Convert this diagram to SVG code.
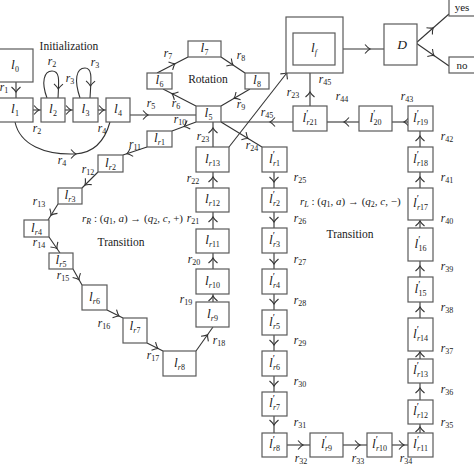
<svg xmlns="http://www.w3.org/2000/svg" xmlns:xlink="http://www.w3.org/1999/xlink" width="474" height="467" viewBox="0 0 474 467">
<style>
.box{fill:#fff;stroke:#5a5a5a;stroke-width:1.2}
.ln{fill:none;stroke:#333;stroke-width:1.1}
.t{font-family:"Liberation Serif","DejaVu Serif",serif;fill:#1a1a1a}
.nl{font-size:13.5px;text-anchor:middle}
.el{font-size:11.5px;text-anchor:middle}
.ttl{font-size:11.5px;text-anchor:middle}
.fm{font-size:11px}
.i{font-style:italic}
.s{font-size:8px}
.p{font-size:10px}
</style>
<defs>
<path id="ah" d="M-5,-4.5 Q-2,-1 0,0 Q-2,1 -5,4.5" fill="none" stroke="#333" stroke-width="1.1"/>
</defs>
<rect width="474" height="467" fill="#fff"/>

<g id="connectors">
<path class="ln" d="M16 82 L16 98"/><use href="#ah" transform="translate(16,92) rotate(90)"/>
<path class="ln" d="M33 110 L41 110"/><use href="#ah" transform="translate(39,110)"/>
<path class="ln" d="M65 110 L73 110"/><use href="#ah" transform="translate(71,110)"/>
<path class="ln" d="M98 110 L106 110"/><use href="#ah" transform="translate(104,110)"/>
<path class="ln" d="M130 115 L196 115"/><use href="#ah" transform="translate(148,115)"/>
<path class="ln" d="M15 122 C20 145,45 155,75 154 C95 153,105 140,110 122"/><use href="#ah" transform="translate(76,154)"/>
<path class="ln" d="M47 98 C41 82,44 71,52 71 C60 71,59 80,58 98"/><use href="#ah" transform="translate(58.3,89) rotate(92)"/>
<path class="ln" d="M80 98 C74 80,76 68,85 68 C93 68,91 80,90 98"/><use href="#ah" transform="translate(90.4,86) rotate(92)"/>
<path class="ln" d="M157 73 L188 57"/><use href="#ah" transform="translate(175,63.7) rotate(-27.3)"/>
<path class="ln" d="M221 57 L245 73"/><use href="#ah" transform="translate(233,65) rotate(33.7)"/>
<path class="ln" d="M250 89 L221 106"/><use href="#ah" transform="translate(234,98.4) rotate(149.6)"/>
<path class="ln" d="M196 106 L163 89"/><use href="#ah" transform="translate(172,93.6) rotate(207.3)"/>
<path class="ln" d="M293 122 L221 122"/><use href="#ah" transform="translate(270,122) rotate(180)"/>
<path class="ln" d="M196 122 L172 131"/><use href="#ah" transform="translate(184,126.5) rotate(159.4)"/>
<path class="ln" d="M147 147 L123 155"/><use href="#ah" transform="translate(127,153.7) rotate(161.6)"/>
<path class="ln" d="M98 172 L82 188"/><use href="#ah" transform="translate(85,185) rotate(135)"/>
<path class="ln" d="M58 204 L48 220"/><use href="#ah" transform="translate(51,215.2) rotate(122)"/>
<path class="ln" d="M49 237 L60 253"/><use href="#ah" transform="translate(57,248.6) rotate(55.5)"/>
<path class="ln" d="M73 269 L82 285"/><use href="#ah" transform="translate(79,279.7) rotate(60.6)"/>
<path class="ln" d="M107 310 L123 318"/><use href="#ah" transform="translate(119,316) rotate(26.6)"/>
<path class="ln" d="M147 343 L163 351"/><use href="#ah" transform="translate(158,348.5) rotate(26.6)"/>
<path class="ln" d="M196 351 L213 327"/><use href="#ah" transform="translate(207.6,334.7) rotate(-54.7)"/>
<path class="ln" d="M213 302 L213 294"/><use href="#ah" transform="translate(213,296) rotate(-90)"/>
<path class="ln" d="M213 269 L213 253"/><use href="#ah" transform="translate(213,258) rotate(-90)"/>
<path class="ln" d="M213 229 L213 212"/><use href="#ah" transform="translate(213,217) rotate(-90)"/>
<path class="ln" d="M213 188 L213 172"/><use href="#ah" transform="translate(213,177) rotate(-90)"/>
<path class="ln" d="M213 147 L213 122"/><use href="#ah" transform="translate(213,128) rotate(-90)"/>
<path class="ln" d="M229 147 L293 65"/><use href="#ah" transform="translate(287,72.7) rotate(-52)"/>
<path class="ln" d="M221 122 L262 147"/><use href="#ah" transform="translate(248,138.5) rotate(31.4)"/>
<path class="ln" d="M274 172 L274 188"/><use href="#ah" transform="translate(274,182) rotate(90)"/>
<path class="ln" d="M274 212 L274 228"/><use href="#ah" transform="translate(274,222) rotate(90)"/>
<path class="ln" d="M274 253 L274 269"/><use href="#ah" transform="translate(274,264) rotate(90)"/>
<path class="ln" d="M274 294 L274 310"/><use href="#ah" transform="translate(274,304) rotate(90)"/>
<path class="ln" d="M274 335 L274 351"/><use href="#ah" transform="translate(274,345) rotate(90)"/>
<path class="ln" d="M274 376 L274 392"/><use href="#ah" transform="translate(274,386) rotate(90)"/>
<path class="ln" d="M274 416 L274 433"/><use href="#ah" transform="translate(274,425) rotate(90)"/>
<path class="ln" d="M287 445 L310 445"/><use href="#ah" transform="translate(303,445)"/>
<path class="ln" d="M343 445 L367 445"/><use href="#ah" transform="translate(360,445)"/>
<path class="ln" d="M392 445 L408 445"/><use href="#ah" transform="translate(404,445)"/>
<path class="ln" d="M420 433 L420 424"/><use href="#ah" transform="translate(420,427) rotate(-90)"/>
<path class="ln" d="M420 400 L420 383"/><use href="#ah" transform="translate(420,388) rotate(-90)"/>
<path class="ln" d="M420 359 L420 351"/><use href="#ah" transform="translate(420,352) rotate(-90)"/>
<path class="ln" d="M420 318 L420 302"/><use href="#ah" transform="translate(420,307) rotate(-90)"/>
<path class="ln" d="M420 277 L420 261"/><use href="#ah" transform="translate(420,266) rotate(-90)"/>
<path class="ln" d="M420 228 L420 220"/><use href="#ah" transform="translate(420,221) rotate(-90)"/>
<path class="ln" d="M420 188 L420 172"/><use href="#ah" transform="translate(420,177) rotate(-90)"/>
<path class="ln" d="M420 147 L420 131"/><use href="#ah" transform="translate(420,136) rotate(-90)"/>
<path class="ln" d="M408 122 L392 122"/><use href="#ah" transform="translate(404,122) rotate(180)"/>
<path class="ln" d="M359 122 L327 122"/><use href="#ah" transform="translate(344,122) rotate(180)"/>
<path class="ln" d="M310 106 L310 65"/><use href="#ah" transform="translate(310,92) rotate(-90)"/>
<path class="ln" d="M343 49 L384 49"/><use href="#ah" transform="translate(370,49)"/>
<path class="ln" d="M416 43 L449 14"/><use href="#ah" transform="translate(433.2,27.9) rotate(-41.3)"/>
<path class="ln" d="M416 43 L449 66"/><use href="#ah" transform="translate(434,55.6) rotate(34.9)"/>
</g>

<g id="edge-labels">
<text class="t el" x="4" y="91"><tspan class="i">r</tspan><tspan class="s" dy="2">1</tspan></text>
<text class="t el" x="52" y="65"><tspan class="i">r</tspan><tspan class="s" dy="2">2</tspan></text>
<text class="t el" x="70" y="82"><tspan class="i">r</tspan><tspan class="s" dy="2">3</tspan></text>
<text class="t el" x="95" y="66"><tspan class="i">r</tspan><tspan class="s" dy="2">3</tspan></text>
<text class="t el" x="37" y="132"><tspan class="i">r</tspan><tspan class="s" dy="2">2</tspan></text>
<text class="t el" x="102" y="132"><tspan class="i">r</tspan><tspan class="s" dy="2">4</tspan></text>
<text class="t el" x="62" y="164"><tspan class="i">r</tspan><tspan class="s" dy="2">4</tspan></text>
<text class="t el" x="151" y="107"><tspan class="i">r</tspan><tspan class="s" dy="2">5</tspan></text>
<text class="t el" x="176" y="107"><tspan class="i">r</tspan><tspan class="s" dy="2">6</tspan></text>
<text class="t el" x="168" y="57"><tspan class="i">r</tspan><tspan class="s" dy="2">7</tspan></text>
<text class="t el" x="241" y="59"><tspan class="i">r</tspan><tspan class="s" dy="2">8</tspan></text>
<text class="t el" x="241" y="108"><tspan class="i">r</tspan><tspan class="s" dy="2">9</tspan></text>
<text class="t el" x="180" y="123"><tspan class="i">r</tspan><tspan class="s" dy="2">10</tspan></text>
<text class="t el" x="135" y="148"><tspan class="i">r</tspan><tspan class="s" dy="2">11</tspan></text>
<text class="t el" x="88" y="173"><tspan class="i">r</tspan><tspan class="s" dy="2">12</tspan></text>
<text class="t el" x="39" y="205"><tspan class="i">r</tspan><tspan class="s" dy="2">13</tspan></text>
<text class="t el" x="39" y="246"><tspan class="i">r</tspan><tspan class="s" dy="2">14</tspan></text>
<text class="t el" x="63" y="279"><tspan class="i">r</tspan><tspan class="s" dy="2">15</tspan></text>
<text class="t el" x="104" y="327"><tspan class="i">r</tspan><tspan class="s" dy="2">16</tspan></text>
<text class="t el" x="153" y="359"><tspan class="i">r</tspan><tspan class="s" dy="2">17</tspan></text>
<text class="t el" x="219" y="344"><tspan class="i">r</tspan><tspan class="s" dy="2">18</tspan></text>
<text class="t el" x="186" y="303"><tspan class="i">r</tspan><tspan class="s" dy="2">19</tspan></text>
<text class="t el" x="194" y="263"><tspan class="i">r</tspan><tspan class="s" dy="2">20</tspan></text>
<text class="t el" x="193" y="222"><tspan class="i">r</tspan><tspan class="s" dy="2">21</tspan></text>
<text class="t el" x="193" y="182"><tspan class="i">r</tspan><tspan class="s" dy="2">22</tspan></text>
<text class="t el" x="203" y="140"><tspan class="i">r</tspan><tspan class="s" dy="2">23</tspan></text>
<text class="t el" x="252" y="149"><tspan class="i">r</tspan><tspan class="s" dy="2">24</tspan></text>
<text class="t el" x="293" y="96"><tspan class="i">r</tspan><tspan class="s" dy="2">23</tspan></text>
<text class="t el" x="325" y="83"><tspan class="i">r</tspan><tspan class="s" dy="2">45</tspan></text>
<text class="t el" x="267" y="116"><tspan class="i">r</tspan><tspan class="s" dy="2">45</tspan></text>
<text class="t el" x="342" y="100"><tspan class="i">r</tspan><tspan class="s" dy="2">44</tspan></text>
<text class="t el" x="407" y="100"><tspan class="i">r</tspan><tspan class="s" dy="2">43</tspan></text>
<text class="t el" x="447" y="140"><tspan class="i">r</tspan><tspan class="s" dy="2">42</tspan></text>
<text class="t el" x="447" y="181"><tspan class="i">r</tspan><tspan class="s" dy="2">41</tspan></text>
<text class="t el" x="447" y="222"><tspan class="i">r</tspan><tspan class="s" dy="2">40</tspan></text>
<text class="t el" x="447" y="270"><tspan class="i">r</tspan><tspan class="s" dy="2">39</tspan></text>
<text class="t el" x="447" y="311"><tspan class="i">r</tspan><tspan class="s" dy="2">38</tspan></text>
<text class="t el" x="447" y="352"><tspan class="i">r</tspan><tspan class="s" dy="2">37</tspan></text>
<text class="t el" x="447" y="393"><tspan class="i">r</tspan><tspan class="s" dy="2">36</tspan></text>
<text class="t el" x="447" y="426"><tspan class="i">r</tspan><tspan class="s" dy="2">35</tspan></text>
<text class="t el" x="406" y="462"><tspan class="i">r</tspan><tspan class="s" dy="2">34</tspan></text>
<text class="t el" x="358" y="462"><tspan class="i">r</tspan><tspan class="s" dy="2">33</tspan></text>
<text class="t el" x="301" y="462"><tspan class="i">r</tspan><tspan class="s" dy="2">32</tspan></text>
<text class="t el" x="300" y="426"><tspan class="i">r</tspan><tspan class="s" dy="2">31</tspan></text>
<text class="t el" x="300" y="385"><tspan class="i">r</tspan><tspan class="s" dy="2">30</tspan></text>
<text class="t el" x="300" y="344"><tspan class="i">r</tspan><tspan class="s" dy="2">29</tspan></text>
<text class="t el" x="300" y="304"><tspan class="i">r</tspan><tspan class="s" dy="2">28</tspan></text>
<text class="t el" x="300" y="263"><tspan class="i">r</tspan><tspan class="s" dy="2">27</tspan></text>
<text class="t el" x="300" y="222"><tspan class="i">r</tspan><tspan class="s" dy="2">26</tspan></text>
<text class="t el" x="300" y="181"><tspan class="i">r</tspan><tspan class="s" dy="2">25</tspan></text>
</g>

<g id="titles">
<text class="t ttl" x="69" y="50">Initialization</text>
<text class="t ttl" x="208" y="83">Rotation</text>
<text class="t ttl" x="121" y="246">Transition</text>
<text class="t ttl" x="350" y="238">Transition</text>
<text class="t fm" x="82" y="222"><tspan class="i">r</tspan><tspan class="s i" dy="2">R</tspan><tspan dy="-2"> : (</tspan><tspan class="i">q</tspan><tspan class="s" dy="2">1</tspan><tspan dy="-2">, </tspan><tspan class="i">a</tspan>) → (<tspan class="i">q</tspan><tspan class="s" dy="2">2</tspan><tspan dy="-2">, </tspan><tspan class="i">c</tspan>, +)</text>
<text class="t fm" x="300" y="205"><tspan class="i">r</tspan><tspan class="s i" dy="2">L</tspan><tspan dy="-2"> : (</tspan><tspan class="i">q</tspan><tspan class="s" dy="2">1</tspan><tspan dy="-2">, </tspan><tspan class="i">a</tspan>) → (<tspan class="i">q</tspan><tspan class="s" dy="2">2</tspan><tspan dy="-2">, </tspan><tspan class="i">c</tspan>, −)</text>
</g>

<g id="l0"><rect class="box" x="-2" y="49" width="35" height="33"/><text class="t nl" x="15" y="69"><tspan class="i">l</tspan><tspan class="s" dy="3">0</tspan></text></g>
<g id="l1"><rect class="box" x="-2" y="98" width="35" height="24"/><text class="t nl" x="15" y="113"><tspan class="i">l</tspan><tspan class="s" dy="3">1</tspan></text></g>
<g id="l2"><rect class="box" x="41" y="98" width="24" height="24"/><text class="t nl" x="53" y="113"><tspan class="i">l</tspan><tspan class="s" dy="3">2</tspan></text></g>
<g id="l3"><rect class="box" x="73" y="98" width="25" height="24"/><text class="t nl" x="85.5" y="113"><tspan class="i">l</tspan><tspan class="s" dy="3">3</tspan></text></g>
<g id="l4"><rect class="box" x="106" y="98" width="24" height="24"/><text class="t nl" x="118" y="113"><tspan class="i">l</tspan><tspan class="s" dy="3">4</tspan></text></g>
<g id="l5"><rect class="box" x="196" y="106" width="25" height="16"/><text class="t nl" x="208.5" y="117"><tspan class="i">l</tspan><tspan class="s" dy="3">5</tspan></text></g>
<g id="l6"><rect class="box" x="147" y="73" width="25" height="16"/><text class="t nl" x="159.5" y="84"><tspan class="i">l</tspan><tspan class="s" dy="3">6</tspan></text></g>
<g id="l7"><rect class="box" x="188" y="41" width="33" height="16"/><text class="t nl" x="204.5" y="52"><tspan class="i">l</tspan><tspan class="s" dy="3">7</tspan></text></g>
<g id="l8"><rect class="box" x="245" y="73" width="24" height="16"/><text class="t nl" x="257" y="84"><tspan class="i">l</tspan><tspan class="s" dy="3">8</tspan></text></g>

<g id="lr1"><rect class="box" x="147" y="131" width="25" height="16"/><text class="t nl" x="159.5" y="142"><tspan class="i">l</tspan><tspan class="s" dy="3"><tspan class="i">r</tspan>1</tspan></text></g>
<g id="lr2"><rect class="box" x="98" y="155" width="25" height="17"/><text class="t nl" x="110.5" y="166.5"><tspan class="i">l</tspan><tspan class="s" dy="3"><tspan class="i">r</tspan>2</tspan></text></g>
<g id="lr3"><rect class="box" x="58" y="188" width="24" height="16"/><text class="t nl" x="70" y="199"><tspan class="i">l</tspan><tspan class="s" dy="3"><tspan class="i">r</tspan>3</tspan></text></g>
<g id="lr4"><rect class="box" x="24" y="220" width="25" height="17"/><text class="t nl" x="36.5" y="231.5"><tspan class="i">l</tspan><tspan class="s" dy="3"><tspan class="i">r</tspan>4</tspan></text></g>
<g id="lr5"><rect class="box" x="49" y="253" width="24" height="16"/><text class="t nl" x="61" y="264"><tspan class="i">l</tspan><tspan class="s" dy="3"><tspan class="i">r</tspan>5</tspan></text></g>
<g id="lr6"><rect class="box" x="82" y="285" width="25" height="25"/><text class="t nl" x="94.5" y="300.5"><tspan class="i">l</tspan><tspan class="s" dy="3"><tspan class="i">r</tspan>6</tspan></text></g>
<g id="lr7"><rect class="box" x="123" y="318" width="24" height="25"/><text class="t nl" x="135" y="330"><tspan class="i">l</tspan><tspan class="s" dy="3"><tspan class="i">r</tspan>7</tspan></text></g>
<g id="lr8"><rect class="box" x="163" y="351" width="33" height="25"/><text class="t nl" x="179.5" y="366.5"><tspan class="i">l</tspan><tspan class="s" dy="3"><tspan class="i">r</tspan>8</tspan></text></g>
<g id="lr9"><rect class="box" x="196" y="302" width="33" height="25"/><text class="t nl" x="212.5" y="317.5"><tspan class="i">l</tspan><tspan class="s" dy="3"><tspan class="i">r</tspan>9</tspan></text></g>
<g id="lr10"><rect class="box" x="196" y="269" width="33" height="25"/><text class="t nl" x="212.5" y="284.5"><tspan class="i">l</tspan><tspan class="s" dy="3"><tspan class="i">r</tspan>10</tspan></text></g>
<g id="lr11"><rect class="box" x="196" y="229" width="33" height="24"/><text class="t nl" x="212.5" y="244"><tspan class="i">l</tspan><tspan class="s" dy="3"><tspan class="i">r</tspan>11</tspan></text></g>
<g id="lr12"><rect class="box" x="196" y="188" width="33" height="24"/><text class="t nl" x="212.5" y="203"><tspan class="i">l</tspan><tspan class="s" dy="3"><tspan class="i">r</tspan>12</tspan></text></g>
<g id="lr13"><rect class="box" x="196" y="147" width="33" height="25"/><text class="t nl" x="212.5" y="162.5"><tspan class="i">l</tspan><tspan class="s" dy="3"><tspan class="i">r</tspan>13</tspan></text></g>

<g id="lpr1"><rect class="box" x="262" y="147" width="25" height="25"/><text class="t nl" x="274.5" y="162.5"><tspan class="i">l</tspan><tspan class="p" dy="-5">′</tspan><tspan class="s" dx="-2" dy="8"><tspan class="i">r</tspan>1</tspan></text></g>
<g id="lpr2"><rect class="box" x="262" y="188" width="25" height="24"/><text class="t nl" x="274.5" y="203"><tspan class="i">l</tspan><tspan class="p" dy="-5">′</tspan><tspan class="s" dx="-2" dy="8"><tspan class="i">r</tspan>2</tspan></text></g>
<g id="lpr3"><rect class="box" x="262" y="228" width="25" height="25"/><text class="t nl" x="274.5" y="243.5"><tspan class="i">l</tspan><tspan class="p" dy="-5">′</tspan><tspan class="s" dx="-2" dy="8"><tspan class="i">r</tspan>3</tspan></text></g>
<g id="lpr4"><rect class="box" x="262" y="269" width="25" height="25"/><text class="t nl" x="274.5" y="284.5"><tspan class="i">l</tspan><tspan class="p" dy="-5">′</tspan><tspan class="s" dx="-2" dy="8"><tspan class="i">r</tspan>4</tspan></text></g>
<g id="lpr5"><rect class="box" x="262" y="310" width="25" height="25"/><text class="t nl" x="274.5" y="325.5"><tspan class="i">l</tspan><tspan class="p" dy="-5">′</tspan><tspan class="s" dx="-2" dy="8"><tspan class="i">r</tspan>5</tspan></text></g>
<g id="lpr6"><rect class="box" x="262" y="351" width="25" height="25"/><text class="t nl" x="274.5" y="366.5"><tspan class="i">l</tspan><tspan class="p" dy="-5">′</tspan><tspan class="s" dx="-2" dy="8"><tspan class="i">r</tspan>6</tspan></text></g>
<g id="lpr7"><rect class="box" x="262" y="392" width="25" height="24"/><text class="t nl" x="274.5" y="407"><tspan class="i">l</tspan><tspan class="p" dy="-5">′</tspan><tspan class="s" dx="-2" dy="8"><tspan class="i">r</tspan>7</tspan></text></g>
<g id="lpr8"><rect class="box" x="262" y="433" width="25" height="24"/><text class="t nl" x="274.5" y="448"><tspan class="i">l</tspan><tspan class="p" dy="-5">′</tspan><tspan class="s" dx="-2" dy="8"><tspan class="i">r</tspan>8</tspan></text></g>
<g id="lpr9"><rect class="box" x="310" y="433" width="33" height="24"/><text class="t nl" x="326.5" y="448"><tspan class="i">l</tspan><tspan class="p" dy="-5">′</tspan><tspan class="s" dx="-2" dy="8"><tspan class="i">r</tspan>9</tspan></text></g>
<g id="lpr10"><rect class="box" x="367" y="433" width="25" height="24"/><text class="t nl" x="379.5" y="448"><tspan class="i">l</tspan><tspan class="p" dy="-5">′</tspan><tspan class="s" dx="-2" dy="8"><tspan class="i">r</tspan>10</tspan></text></g>
<g id="lpr11"><rect class="box" x="408" y="433" width="25" height="24"/><text class="t nl" x="420.5" y="448"><tspan class="i">l</tspan><tspan class="p" dy="-5">′</tspan><tspan class="s" dx="-2" dy="8"><tspan class="i">r</tspan>11</tspan></text></g>
<g id="lpr12"><rect class="box" x="408" y="400" width="25" height="24"/><text class="t nl" x="420.5" y="415"><tspan class="i">l</tspan><tspan class="p" dy="-5">′</tspan><tspan class="s" dx="-2" dy="8"><tspan class="i">r</tspan>12</tspan></text></g>
<g id="lpr13"><rect class="box" x="408" y="359" width="25" height="24"/><text class="t nl" x="420.5" y="374"><tspan class="i">l</tspan><tspan class="p" dy="-5">′</tspan><tspan class="s" dx="-2" dy="8"><tspan class="i">r</tspan>13</tspan></text></g>
<g id="lpr14"><rect class="box" x="408" y="318" width="25" height="33"/><text class="t nl" x="420.5" y="337.5"><tspan class="i">l</tspan><tspan class="p" dy="-5">′</tspan><tspan class="s" dx="-2" dy="8"><tspan class="i">r</tspan>14</tspan></text></g>
<g id="lp15"><rect class="box" x="408" y="277" width="25" height="25"/><text class="t nl" x="420.5" y="292.5"><tspan class="i">l</tspan><tspan class="p" dy="-5">′</tspan><tspan class="s" dx="-2" dy="8">15</tspan></text></g>
<g id="lp16"><rect class="box" x="408" y="228" width="25" height="33"/><text class="t nl" x="420.5" y="247.5"><tspan class="i">l</tspan><tspan class="p" dy="-5">′</tspan><tspan class="s" dx="-2" dy="8">16</tspan></text></g>
<g id="lpr17"><rect class="box" x="408" y="188" width="25" height="32"/><text class="t nl" x="420.5" y="207"><tspan class="i">l</tspan><tspan class="p" dy="-5">′</tspan><tspan class="s" dx="-2" dy="8"><tspan class="i">r</tspan>17</tspan></text></g>
<g id="lpr18"><rect class="box" x="408" y="147" width="25" height="25"/><text class="t nl" x="420.5" y="162.5"><tspan class="i">l</tspan><tspan class="p" dy="-5">′</tspan><tspan class="s" dx="-2" dy="8"><tspan class="i">r</tspan>18</tspan></text></g>
<g id="lpr19"><rect class="box" x="408" y="106" width="25" height="25"/><text class="t nl" x="420.5" y="121.5"><tspan class="i">l</tspan><tspan class="p" dy="-5">′</tspan><tspan class="s" dx="-2" dy="8"><tspan class="i">r</tspan>19</tspan></text></g>
<g id="lp20"><rect class="box" x="359" y="106" width="33" height="25"/><text class="t nl" x="375.5" y="121.5"><tspan class="i">l</tspan><tspan class="p" dy="-5">′</tspan><tspan class="s" dx="-2" dy="8">20</tspan></text></g>
<g id="lpr21"><rect class="box" x="293" y="106" width="34" height="25"/><text class="t nl" x="310" y="121.5"><tspan class="i">l</tspan><tspan class="p" dy="-5">′</tspan><tspan class="s" dx="-2" dy="8"><tspan class="i">r</tspan>21</tspan></text></g>

<g id="lf"><rect class="box" x="286" y="17" width="57" height="56"/><rect class="box" x="293" y="33" width="42" height="32"/><text class="t nl" x="314" y="52"><tspan class="i">l</tspan><tspan class="s i" dy="3">f</tspan></text></g>
<g id="D"><rect class="box" x="384" y="24" width="33" height="41"/><text class="t nl i" x="402" y="49">D</text></g>
<g id="yes"><rect class="box" x="449" y="-2" width="30" height="18"/><text class="t nl" x="462" y="11" style="font-size:11px">yes</text></g>
<g id="no"><rect class="box" x="449" y="57" width="30" height="16"/><text class="t nl" x="462" y="69" style="font-size:11px">no</text></g>
</svg>
